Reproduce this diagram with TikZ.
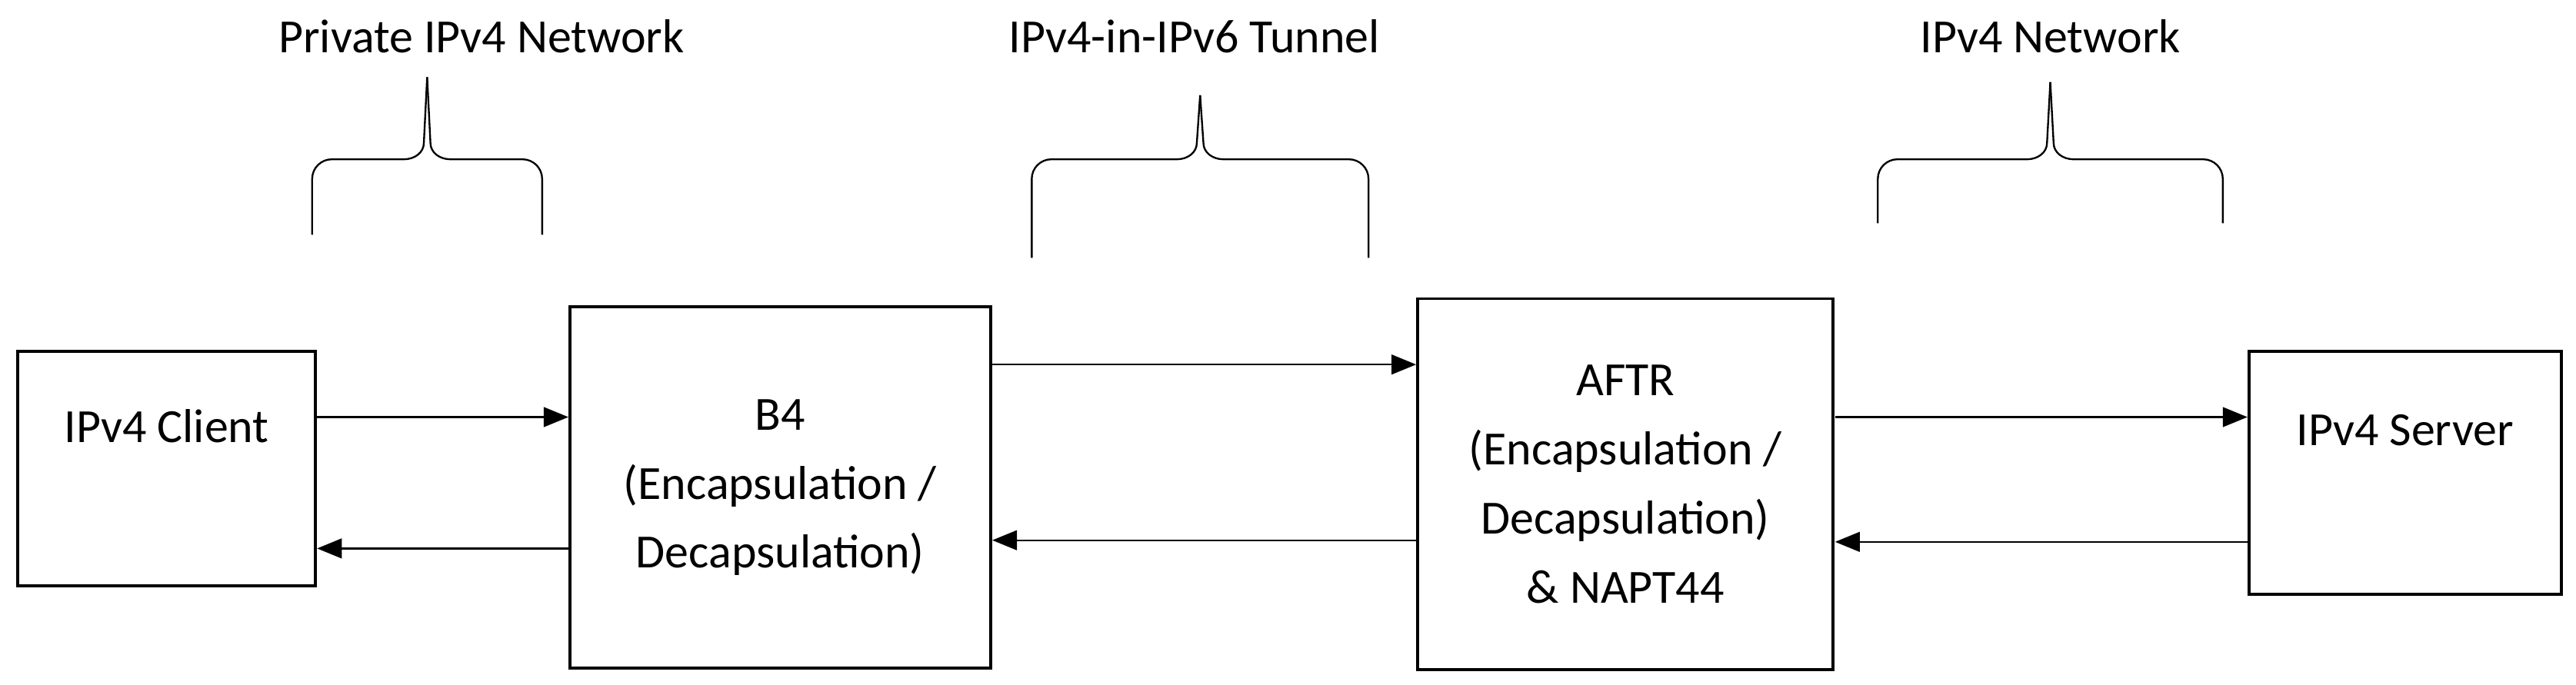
\documentclass[tikz,border=0pt]{standalone}
\usepackage{fontspec}
\setmainfont{Carlito}
\usetikzlibrary{arrows.meta}
\newcommand\mybrace[5]{% left, right, bottom, bend, tip
 \pgfmathsetmacro\bm{(#1+#2)/2}
 \pgfmathsetmacro\bml{\bm-14}\pgfmathsetmacro\bmr{\bm+14}
 \pgfmathsetmacro\bmll{\bm-2}\pgfmathsetmacro\bmrr{\bm+2}
 \pgfmathsetmacro\bl{#1+12}\pgfmathsetmacro\br{#2-12}
 \pgfmathsetmacro\by{#4+12}\pgfmathsetmacro\bt{#4-10}
 \draw[brc] (#1,#3) -- (#1,\by) to[out=90,in=180] (\bl,#4) -- (\bml,#4)
   to[out=0,in=-90] (\bmll,\bt) -- (\bm,#5);
 \draw[brc] (#2,#3) -- (#2,\by) to[out=90,in=0] (\br,#4) -- (\bmr,#4)
   to[out=180,in=-90] (\bmrr,\bt) -- (\bm,#5);}
\begin{document}
\begin{tikzpicture}[x=1pt,y=-1pt,
 box/.style={draw,line width=1.8pt,anchor=north west,align=center,inner sep=0pt,font=\fontsize{29}{42}\selectfont},
 lbl/.style={font=\fontsize{29}{34}\selectfont},
 arr/.style={line width=1.1pt,-{Triangle[length=15pt,width=12pt]}},
 brc/.style={line width=1.1pt}]
\useasboundingbox (0,0) rectangle (1568,417);
\node[box,minimum width=181pt,minimum height=143pt] (c) at (10,213) {IPv4 Client\\[10pt]\mbox{}};
\node[box,minimum width=256pt,minimum height=220pt] (b) at (346,186) {B4\\(Encapsulation /\\Decapsulation)};
\node[box,minimum width=253pt,minimum height=226pt] (a) at (862,181) {AFTR\\(Encapsulation /\\Decapsulation)\\\& NAPT44};
\node[box,minimum width=190pt,minimum height=148pt] (s) at (1368,213) {IPv4 Server\\[10pt]\mbox{}};
\coordinate (c1) at (193,254); \coordinate (c2) at (193,334);
\draw[arr] (c1) -- (c1-|b.west);
\draw[arr] (b.west|-c2) -- (c2);
\coordinate (b1) at (604,222); \coordinate (b2) at (604,329);
\draw[arr] (b1) -- (b1-|a.west);
\draw[arr] (a.west|-b2) -- (b2);
\coordinate (a1) at (1117,254); \coordinate (a2) at (1117,330);
\draw[arr] (a1) -- (a1-|s.west);
\draw[arr] (s.west|-a2) -- (a2);
\mybrace{190}{330}{143}{97}{47}
\mybrace{628}{833}{157}{97}{58}
\mybrace{1143}{1353}{136}{97}{50}
\node[lbl] (l1) at (293,22) {Private IPv4 Network};
\node[lbl] (l2) at (727,22) {IPv4-in-IPv6 Tunnel};
\node[lbl] (l3) at (1248,22) {IPv4 Network};
\end{tikzpicture}
\end{document}
